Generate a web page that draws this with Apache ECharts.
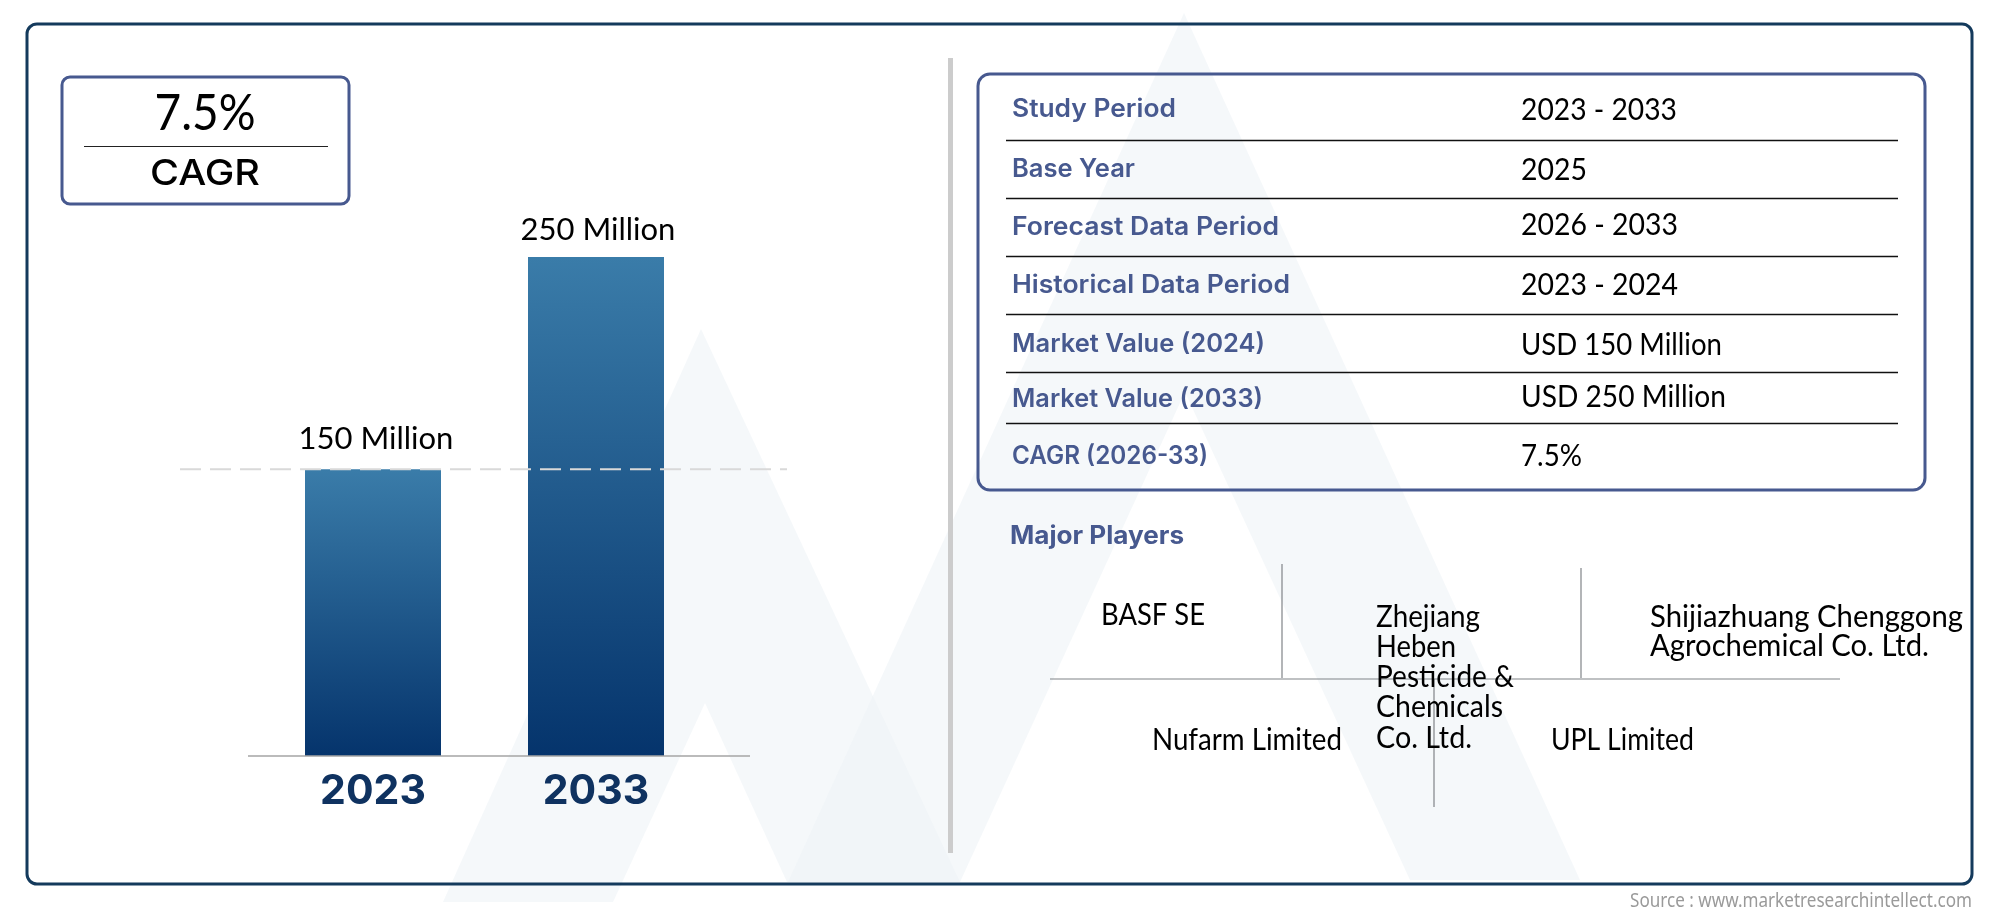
<!DOCTYPE html>
<html>
<head>
<meta charset="utf-8">
<title>Market chart</title>
<script src="https://cdn.jsdelivr.net/npm/echarts@6/dist/echarts.min.js"></script>
<style>
html, body { margin: 0; padding: 0; background: #fff; }
#chart { width: 2000px; height: 917px; }
</style>
</head>
<body>
<div id="chart"></div>
<script>
const headFont = 'Inter'
const bodyFont = 'Lato'
const blue = '#47598f'

const state = {
    years: ['2023', '2033'],
    values: [150, 250],
    // summary table: label, label width, value, value width, y of label, y of value, y of rule under row
    table: [
        ['Study Period', 164, '2023 - 2033', 156, 109, 110, 140],
        ['Base Year', 123, '2025', 66, 169, 170, 198],
        ['Forecast Data Period', 267, '2026 - 2033', 157, 227, 225, 256],
        ['Historical Data Period', 278, '2023 - 2024', 157, 285, 285, 314],
        ['Market Value (2024)', 253, 'USD 150 Million', 201, 344, 345, 372],
        ['Market Value (2033)', 251, 'USD 250 Million', 205, 399, 397, 423],
        ['CAGR (2026-33)', 196, '7.5%', 61, 456, 456, null]
    ],
    // name, width, x, y
    players: [
        ['BASF SE', 104, 1101, 615],
        ['Zhejiang', 104, 1376, 617],
        ['Heben', 80, 1376, 647],
        ['Pesticide &', 138, 1376, 677],
        ['Chemicals', 127, 1376, 707],
        ['Co. Ltd.', 96, 1376, 738],
        ['Shijiazhuang Chenggong', 313, 1650, 617],
        ['Agrochemical Co. Ltd.', 279, 1650, 646],
        ['Nufarm Limited', 190, 1152, 740],
        ['UPL Limited', 143, 1551, 740]
    ],
    playerLines: [
        [1282, 564, 1282, 678],
        [1581, 568, 1581, 678],
        [1050, 679, 1840, 679],
        [1434, 679, 1434, 807]
    ],
    watermark: [
        [[701, 329], [960, 882], [787, 882], [705, 703], [613, 902], [443, 902]],
        [[1184, 13], [1580, 880], [1410, 880], [1185, 392], [960, 882], [788, 882]]
    ]
}

const chart = echarts.init(document.getElementById('chart'))

const barColor = new echarts.graphic.LinearGradient(0, 0, 0, 1, [
    { offset: 0, color: '#3a7ca9' },
    { offset: 1, color: '#05346c' }
])

chart.setOption({
    animation: false,
    grid: { left: 261.5, top: 257, width: 446, height: 499 },
    xAxis: {
        type: 'category',
        data: state.years,
        axisLine: { show: false },
        axisTick: { show: false },
        axisLabel: { margin: 15, color: '#0f3260', fontFamily: headFont, fontWeight: 700, fontSize: 41 }
    },
    // bars in the picture do not start at zero
    yAxis: { type: 'value', min: 15, max: 250, show: false, splitLine: { show: false } },
    series: [{
        type: 'bar',
        barWidth: 136,
        itemStyle: { color: barColor },
        label: {
            show: true,
            position: 'top',
            color: '#000',
            fontFamily: bodyFont,
            fontSize: 31,
            formatter: '{c} Million'
        },
        data: [
            { value: state.values[0], label: { distance: 15, offset: [3, 0] } },
            { value: state.values[1], label: { distance: 12, offset: [2, 0] } }
        ]
    }]
})

const elements = []
const ruler = document.createElement('canvas').getContext('2d')

function line(x1, y1, x2, y2, stroke, lineWidth, z, dash) {
    elements.push({
        type: 'line', z: z, silent: true,
        shape: { x1: x1, y1: y1, x2: x2, y2: y2 },
        style: { stroke: stroke, lineWidth: lineWidth, lineDash: dash }
    })
}

// the fonts here differ a little in width, so squeeze each text to the width it has in the picture
function text(str, width, x, y, size, family, weight, fill, align) {
    ruler.font = weight + ' ' + size + 'px ' + family
    elements.push({
        type: 'text', z: 5, silent: true, x: x, y: y,
        scaleX: width / ruler.measureText(str).width,
        style: {
            text: str, fill: fill, fontSize: size, fontFamily: family, fontWeight: weight,
            align: align || 'left', verticalAlign: 'middle'
        }
    })
}

function box(x, y, w, h, r, stroke, lineWidth) {
    elements.push({
        type: 'rect', z: 1, silent: true,
        shape: { x: x, y: y, width: w, height: h, r: r },
        style: { fill: 'transparent', stroke: stroke, lineWidth: lineWidth }
    })
}

state.watermark.forEach(function (points) {
    elements.push({
        type: 'polygon', z: -1, silent: true,
        shape: { points: points },
        style: { fill: '#eff3f7', opacity: 0.6 }
    })
})

box(27, 24, 1945, 860, 10, '#143a5c', 3)
box(62, 77, 287, 127, 8, blue, 3)
box(978, 74, 947, 416, 12, blue, 3)

elements.push({
    type: 'rect', z: 1, silent: true,
    shape: { x: 948, y: 58, width: 5, height: 795 },
    style: { fill: '#cccccc' }
})

text('7.5%', 101, 205, 114, 50, bodyFont, 400, '#000', 'center')
line(84, 146.5, 328, 146.5, '#222', 1, 1)
text('CAGR', 110, 205, 174, 36, headFont, 500, '#000', 'center')

state.table.forEach(function (row) {
    text(row[0], row[1], 1012, row[4], 25, headFont, 600, blue)
    text(row[2], row[3], 1521, row[5], 30, bodyFont, 400, '#000')
    if (row[6]) line(1006, row[6] + 0.5, 1898, row[6] + 0.5, '#111', 1.5, 1)
})

text('Major Players', 174, 1010, 536, 25, headFont, 700, blue)

state.playerLines.forEach(function (l) {
    line(l[0], l[1], l[2], l[3], '#808488', 1.2, 1)
})
state.players.forEach(function (p) {
    text(p[0], p[1], p[2], p[3], 30, bodyFont, 400, '#000')
})

text('Source : www.marketresearchintellect.com', 342, 1972, 902, 19, 'Noto Sans', 400, '#9a9a9a', 'right')

// guide and base line sit on the value scale
const guideY = chart.convertToPixel({ yAxisIndex: 0 }, state.values[0])
const baseY = chart.convertToPixel({ yAxisIndex: 0 }, 15)
line(180, guideY, 787, guideY, '#d9d9d9', 2, 10, [21, 9])
line(248, baseY, 750, baseY, '#a5a5a5', 1.5, 10)

chart.setOption({ graphic: { elements: elements } })
</script>
</body>
</html>
